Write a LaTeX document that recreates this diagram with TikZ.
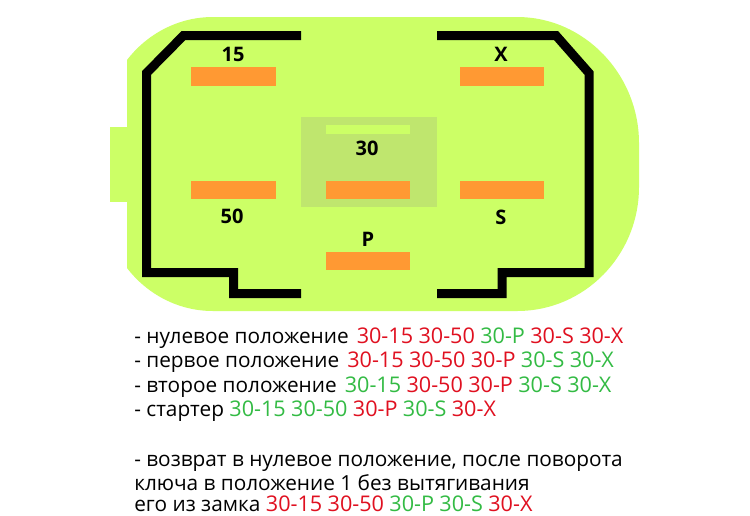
\documentclass[tikz,border=0pt]{standalone}
\usepackage{fontspec}
\setmainfont{Open Sans}
\definecolor{body}{HTML}{CCFF66}
\definecolor{pin}{HTML}{FF9933}
\definecolor{mid}{HTML}{BFE66E}
\definecolor{rd}{HTML}{E01020}
\definecolor{gr}{HTML}{33BB44}
\newcommand{\codesize}{\fontsize{16.2pt}{18pt}\selectfont}
\newcommand{\R}[1]{{\codesize\textcolor{rd}{#1}}}
\newcommand{\G}[1]{{\codesize\textcolor{gr}{#1}}}
\tikzset{
 pinbar/.style={fill=pin},
 wall/.style={draw=black,line width=6.75pt,miter limit=10},
 pinlabel/.style={font=\fontsize{15pt}{18pt}\selectfont\bfseries,inner sep=0pt,text=black},
 textline/.style={font=\fontsize{15.6pt}{18pt}\selectfont,anchor=base west,inner sep=0pt,text=black}
}
\begin{document}
\begin{tikzpicture}[x=0.75pt,y=-0.75pt]
\useasboundingbox (0,0) rectangle (750,515);
\fill[white] (0,0) rectangle (750,515);
\fill[body] (110,127) rectangle (128,202);
\fill[body] (127,60) .. controls (147,34) and (178,17) .. (213,17) -- (517,17)
  .. controls (585,17) and (639,75) .. (639,143) -- (639,187)
  .. controls (639,255) and (585,311) .. (517,311) -- (213,311)
  .. controls (178,311) and (147,294) .. (127,268) -- cycle;
\fill[mid] (301,117) rectangle (437,207);
\fill[body] (326,125) rectangle (410,134);
\fill[pinbar] (191,67) rectangle (276,86);
\fill[pinbar] (460,67) rectangle (544,86);
\fill[pinbar] (191,181) rectangle (276,199);
\fill[pinbar] (326,181) rectangle (410,199);
\fill[pinbar] (460,181) rectangle (544,199);
\fill[pinbar] (326,252) rectangle (410,270);
\draw[wall] (301,35.5) -- (183.5,35.5) -- (146.5,73) -- (146.5,272.5) -- (233.5,272.5) -- (233.5,293.5) -- (301,293.5);
\draw[wall] (437,35.5) -- (556,35.5) -- (589,73) -- (589,272.5) -- (502,272.5) -- (502,293.5) -- (437,293.5);
\node[pinlabel] (l15) at (233,54) {15};
\node[pinlabel] (lX) at (501,54) {X};
\node[pinlabel] (l30) at (367,148) {30};
\node[pinlabel] (l50) at (232,216) {50};
\node[pinlabel] (lS) at (501,217) {S};
\node[pinlabel] (lP) at (368,239) {P};
\node[textline] (t1) at (134,343) {- нулевое положение\hspace{2pt} \R{30-15} \R{30-50} \G{30-P} \R{30-S} \R{30-X}};
\node[textline] (t2) at (134,367) {- первое положение\hspace{2pt} \R{30-15} \R{30-50} \R{30-P} \G{30-S} \G{30-X}};
\node[textline] (t3) at (134,392) {- второе положение\hspace{2pt} \G{30-15} \R{30-50} \R{30-P} \G{30-S} \G{30-X}};
\node[textline] (t4) at (134,416) {- стартер \G{30-15} \G{30-50} \R{30-P} \G{30-S} \R{30-X}};
\node[textline] (t5) at (134,466) {- возврат в нулевое положение, после поворота};
\node[textline] (t6) at (134,490) {ключа в положение 1 без вытягивания};
\node[textline] (t7) at (134,511.5) {его из замка \R{30-15} \R{30-50} \G{30-P} \G{30-S} \R{30-X}};
\end{tikzpicture}
\end{document}
